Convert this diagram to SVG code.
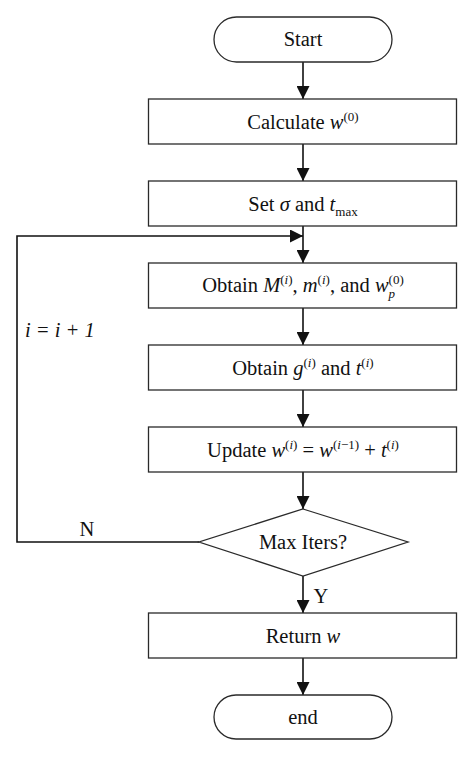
<svg xmlns="http://www.w3.org/2000/svg" width="474" height="757" viewBox="0 0 474 757">
<defs>
<style>
.node{fill:#fff;stroke:#2a2a2a;stroke-width:1.3}
.conn{fill:none;stroke:#111;stroke-width:1.6}
text{font-family:"Liberation Serif","Times New Roman",serif;font-size:20.5px;fill:#111}
.c{text-anchor:middle}
.it{font-style:italic}
.sm{font-size:13px}
</style>
<marker id="ah" markerUnits="userSpaceOnUse" markerWidth="13" markerHeight="13" refX="13" refY="6.5" orient="auto">
<path d="M0,0 L13,6.5 L0,13 z" fill="#111"/>
</marker>
</defs>
<rect width="474" height="757" fill="#fff"/>
<g id="connectors">
<line class="conn" x1="303" y1="62" x2="303" y2="99" marker-end="url(#ah)"/>
<line class="conn" x1="303" y1="144" x2="303" y2="181" marker-end="url(#ah)"/>
<line class="conn" x1="303" y1="226" x2="303" y2="263" marker-end="url(#ah)"/>
<path class="conn" d="M199,542 H17 V236 H303" marker-end="url(#ah)"/>
<line class="conn" x1="303" y1="308" x2="303" y2="345" marker-end="url(#ah)"/>
<line class="conn" x1="303" y1="390" x2="303" y2="427" marker-end="url(#ah)"/>
<line class="conn" x1="303" y1="472" x2="303" y2="509" marker-end="url(#ah)"/>
<line class="conn" x1="303" y1="576" x2="303" y2="613" marker-end="url(#ah)"/>
<line class="conn" x1="303" y1="658" x2="303" y2="695" marker-end="url(#ah)"/>
<text x="25" y="337" class="it">i = i + 1</text>
<text x="87" y="536" class="c">N</text>
<text x="321" y="603" class="c">Y</text>
</g>
<g id="start">
<rect class="node" x="214" y="17" width="178" height="45" rx="22.5" ry="22.5"/>
<text x="303" y="46" class="c">Start</text>
</g>
<g id="calc">
<rect class="node" x="148.5" y="99" width="308" height="45"/>
<text x="303" y="129" class="c">Calculate <tspan class="it">w</tspan><tspan class="sm" dy="-8">(0)</tspan></text>
</g>
<g id="set">
<rect class="node" x="148.5" y="181" width="308" height="45"/>
<text x="303" y="211" class="c">Set <tspan class="it">σ</tspan> and <tspan class="it">t</tspan><tspan class="sm" dy="5">max</tspan></text>
</g>
<g id="obtainM">
<rect class="node" x="148.5" y="263" width="308" height="45"/>
<text x="303" y="292" class="c">Obtain <tspan class="it">M</tspan><tspan class="sm" dy="-8">(<tspan class="it">i</tspan>)</tspan><tspan dy="8">, </tspan><tspan class="it">m</tspan><tspan class="sm" dy="-8">(<tspan class="it">i</tspan>)</tspan><tspan dy="8">, and </tspan><tspan class="it">w</tspan><tspan class="sm it" dy="6">p</tspan><tspan class="sm" dx="-6.5" dy="-14">(0)</tspan></text>
</g>
<g id="obtainG">
<rect class="node" x="148.5" y="345" width="308" height="45"/>
<text x="303" y="375" class="c">Obtain <tspan class="it">g</tspan><tspan class="sm" dy="-8">(<tspan class="it">i</tspan>)</tspan><tspan dy="8"> and </tspan><tspan class="it">t</tspan><tspan class="sm" dy="-8">(<tspan class="it">i</tspan>)</tspan></text>
</g>
<g id="update">
<rect class="node" x="148.5" y="427" width="308" height="45"/>
<text x="303" y="457" class="c">Update <tspan class="it">w</tspan><tspan class="sm" dy="-8">(<tspan class="it">i</tspan>)</tspan><tspan dy="8"> = </tspan><tspan class="it">w</tspan><tspan class="sm" dy="-8">(<tspan class="it">i</tspan>−1)</tspan><tspan dy="8"> + </tspan><tspan class="it">t</tspan><tspan class="sm" dy="-8">(<tspan class="it">i</tspan>)</tspan></text>
</g>
<g id="maxIters">
<polygon class="node" points="303,509 408,542 303,576 199,542"/>
<text x="303" y="549" class="c">Max Iters?</text>
</g>
<g id="return">
<rect class="node" x="148.5" y="613" width="308" height="45"/>
<text x="303" y="643" class="c">Return <tspan class="it">w</tspan></text>
</g>
<g id="end">
<rect class="node" x="214" y="695" width="178" height="44" rx="22" ry="22"/>
<text x="303" y="724" class="c">end</text>
</g>
</svg>
